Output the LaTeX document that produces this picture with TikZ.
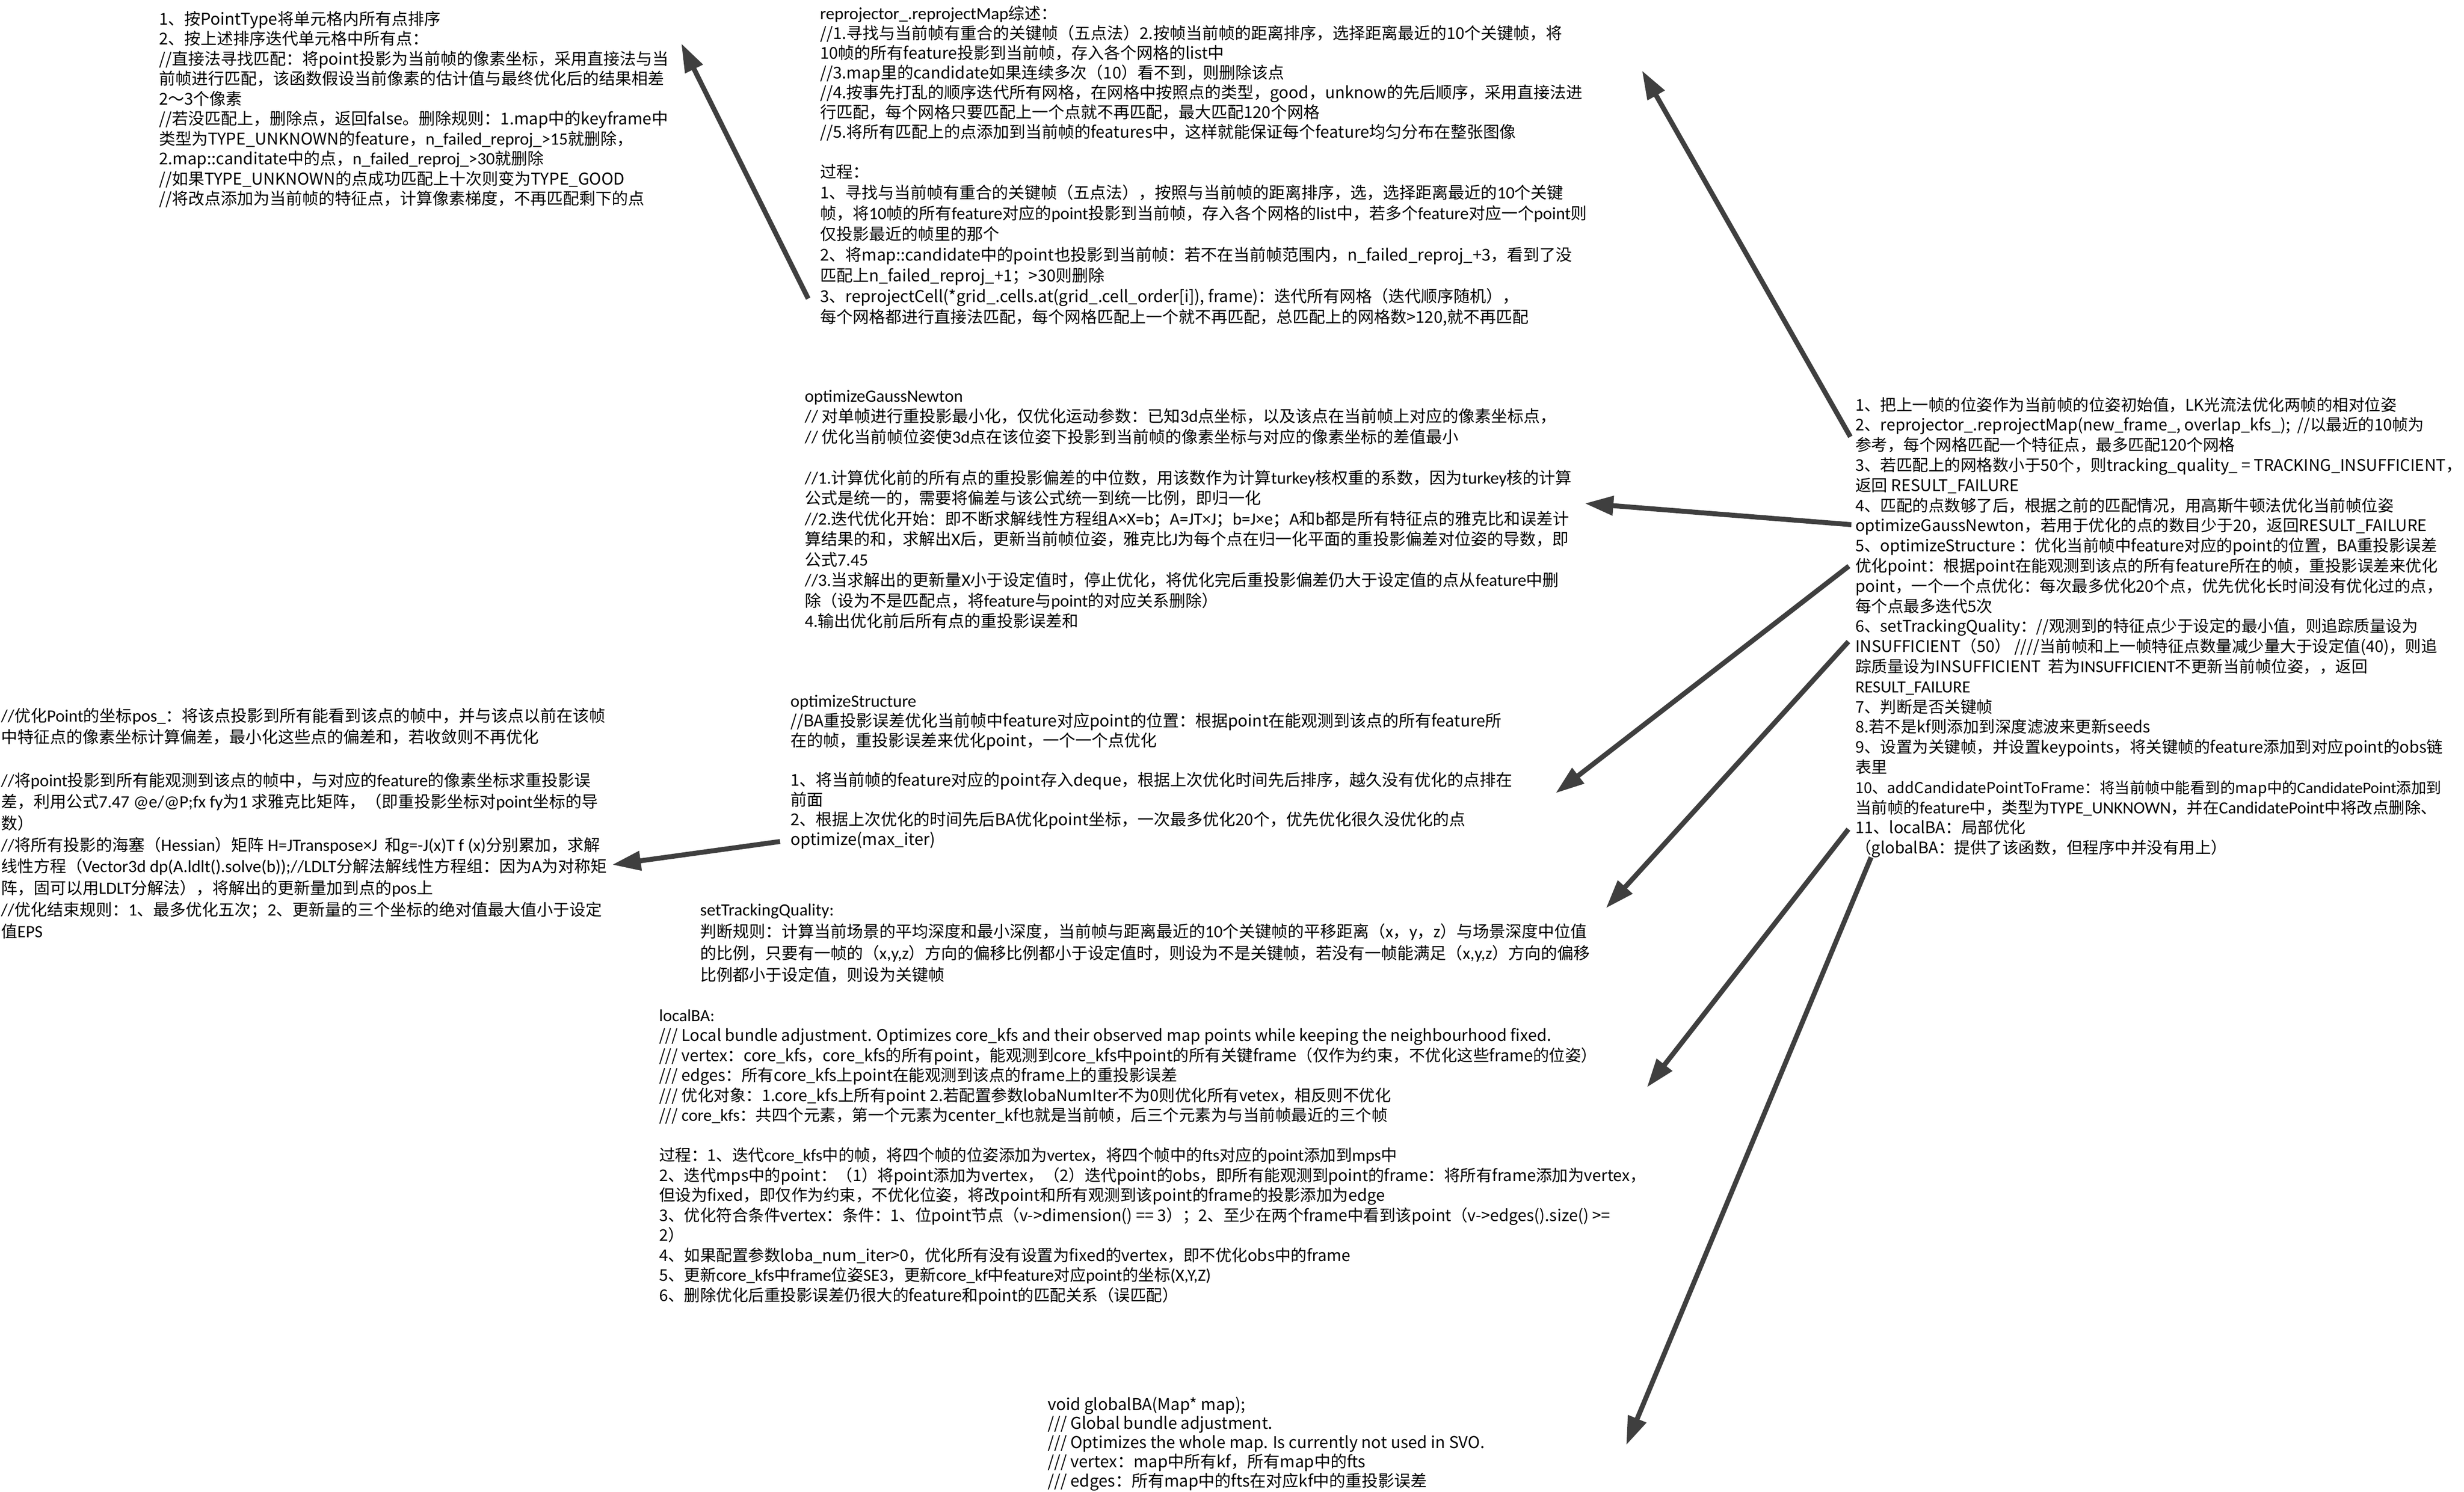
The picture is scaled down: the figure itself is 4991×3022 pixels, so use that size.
\documentclass[tikz,border=0pt]{standalone}
\usepackage{fontspec}
\setmainfont{Noto Sans CJK SC}
\newfontfamily\carl[Scale=1.06]{Carlito}
\usetikzlibrary{arrows.meta}
\definecolor{arrowgray}{HTML}{3F3F3F}
\newcommand\cb[1]{{\carl #1}}
\tikzset{
  txt/.style={anchor=base west, align=left, inner sep=0pt, text=black},
  conn/.style={draw=arrowgray, line width=10pt, -{Triangle[length=58pt,width=38pt]}}
}
\begin{document}
\begin{tikzpicture}[x=1pt,y=-1pt]
\useasboundingbox (0,0) rectangle (4991,3022);
\fill[white] (0,0) rectangle (4991,3022);

% NOTE: each text node is placed by the baseline of its LAST line

% top-left block
\node[txt, font=\fontsize{33}{40.5}\selectfont] (tl) at (322,414.5) {%
1、按PointType将单元格内所有点排序\\
2、按上述排序迭代单元格中所有点：\\
//直接法寻找匹配：将point投影为当前帧的像素坐标，采用直接法与当\\
前帧进行匹配，该函数假设当前像素的估计值与最终优化后的结果相差\\
2～3个像素\\
//若没匹配上，删除点，返回false。删除规则：1.map中的keyframe中\\
类型为TYPE\_UNKNOWN的feature，\cb{n\_failed\_reproj\_>15}就删除，\\
2.map::canditate中的点，\cb{n\_failed\_reproj\_>30}就删除\\
//如果TYPE\_UNKNOWN的点成功匹配上十次则变为TYPE\_GOOD\\
//将改点添加为当前帧的特征点，计算像素梯度，不再匹配剩下的点};

% reprojector summary
\node[txt, font=\fontsize{33}{40}\selectfont] (rp1) at (1661,279) {%
\cb{reprojector\_.reprojectMap}综述：\\
//1.寻找与当前帧有重合的关键帧（五点法）2.按帧当前帧的距离排序，选择距离最近的10个关键帧，将\\
10帧的所有feature投影到当前帧，存入各个网格的list中\\
//3.map里的candidate如果连续多次（10）看不到，则删除该点\\
//4.按事先打乱的顺序迭代所有网格，在网格中按照点的类型，good，unknow的先后顺序，采用直接法进\\
行匹配，每个网格只要匹配上一个点就不再匹配，最大匹配120个网格\\
//5.将所有匹配上的点添加到当前帧的features中，这样就能保证每个feature均匀分布在整张图像};

\node[txt, font=\fontsize{33}{42}\selectfont] (rp2) at (1661,654) {%
过程：\\
1、寻找与当前帧有重合的关键帧（五点法），按照与当前帧的距离排序，选，选择距离最近的\cb{10}个关键\\
帧，将\cb{10}帧的所有\cb{feature}对应的\cb{point}投影到当前帧，存入各个网格的\cb{list}中，若多个\cb{feature}对应一个\cb{point}则\\
仅投影最近的帧里的那个\\
2、将map::candidate中的point也投影到当前帧：若不在当前帧范围内，n\_failed\_reproj\_+3，看到了没\\
匹配上n\_failed\_reproj\_+1；>30则删除\\
3、reprojectCell(*grid\_.cells.at(grid\_.cell\_order[i]), frame)：迭代所有网格（迭代顺序随机），\\
每个网格都进行直接法匹配，每个网格匹配上一个就不再匹配，总匹配上的网格数>120,就不再匹配};

% optimizeGaussNewton
\node[txt, font=\fontsize{33}{41.5}\selectfont] (gn) at (1630,1270.5) {%
\cb{optimizeGaussNewton}\\
\cb{//} 对单帧进行重投影最小化，仅优化运动参数：已知\cb{3d}点坐标，以及该点在当前帧上对应的像素坐标点，\\
\cb{//} 优化当前帧位姿使\cb{3d}点在该位姿下投影到当前帧的像素坐标与对应的像素坐标的差值最小\\[41.5pt]
\cb{//1.}计算优化前的所有点的重投影偏差的中位数，用该数作为计算\cb{turkey}核权重的系数，因为\cb{turkey}核的计算\\
公式是统一的，需要将偏差与该公式统一到统一比例，即归一化\\
\cb{//2.}迭代优化开始：即不断求解线性方程组\cb{A×X=b}；\cb{A=JT×J}；\cb{b=J×e}；\cb{A}和\cb{b}都是所有特征点的雅克比和误差计\\
算结果的和，求解出\cb{X}后，更新当前帧位姿，雅克比\cb{J}为每个点在归一化平面的重投影偏差对位姿的导数，即\\
公式\cb{7.45}\\
\cb{//3.}当求解出的更新量\cb{X}小于设定值时，停止优化，将优化完后重投影偏差仍大于设定值的点从\cb{feature}中删\\
除（设为不是匹配点，将\cb{feature}与\cb{point}的对应关系删除）\\
\cb{4.}输出优化前后所有点的重投影误差和};

% left block
\node[txt, font=\fontsize{33}{43.7}\selectfont] (lf) at (2,1899) {%
\cb{//}优化\cb{Point}的坐标\cb{pos\_}：将该点投影到所有能看到该点的帧中，并与该点以前在该帧\\
中特征点的像素坐标计算偏差，最小化这些点的偏差和，若收敛则不再优化\\[43.7pt]
\cb{//}将\cb{point}投影到所有能观测到该点的帧中，与对应的\cb{feature}的像素坐标求重投影误\\
差，利用公式\cb{7.47 @e/@P;fx fy}为\cb{1} 求雅克比矩阵，（即重投影坐标对\cb{point}坐标的导\\
数）\\
\cb{//}将所有投影的海塞（\cb{Hessian}）矩阵 \cb{H=JTranspose×J}\ \ 和\cb{g=-J(x)T f (x)}分别累加，求解\\
线性方程（\cb{Vector3d dp(A.ldlt().solve(b));//LDLT}分解法解线性方程组：因为\cb{A}为对称矩\\
阵，固可以用\cb{LDLT}分解法），将解出的更新量加到点的\cb{pos}上\\
\cb{//}优化结束规则：\cb{1}、最多优化五次；\cb{2}、更新量的三个坐标的绝对值最大值小于设定\\
值\cb{EPS}};

% optimizeStructure
\node[txt, font=\fontsize{33}{40}\selectfont] (os) at (1601,1712) {%
\cb{optimizeStructure}\\
//BA重投影误差优化当前帧中feature对应point的位置：根据point在能观测到该点的所有feature所\\
在的帧，重投影误差来优化point，一个一个点优化\\[40pt]
1、将当前帧的feature对应的point存入deque，根据上次优化时间先后排序，越久没有优化的点排在\\
前面\\
2、根据上次优化的时间先后BA优化point坐标，一次最多优化20个，优先优化很久没优化的点\\
optimize(max\_iter)};

% setTrackingQuality
\node[txt, font=\fontsize{33}{44}\selectfont] (tq) at (1418,1987) {%
\cb{setTrackingQuality:}\\
判断规则：计算当前场景的平均深度和最小深度，当前帧与距离最近的\cb{10}个关键帧的平移距离（\cb{x}，\cb{y}，\cb{z}）与场景深度中位值\\
的比例，只要有一帧的（\cb{x,y,z}）方向的偏移比例都小于设定值时，则设为不是关键帧，若没有一帧能满足（\cb{x,y,z}）方向的偏移\\
比例都小于设定值，则设为关键帧};

% localBA
\node[txt, font=\fontsize{32.5}{40.5}\selectfont] (lb) at (1335,2636) {%
\cb{localBA:}\\
/// Local bundle adjustment. Optimizes core\_kfs and their observed map points while keeping the neighbourhood fixed.\\
/// vertex：core\_kfs，core\_kfs的所有point，能观测到core\_kfs中point的所有关键frame（仅作为约束，不优化这些frame的位姿）\\
/// edges：所有core\_kfs上point在能观测到该点的frame上的重投影误差\\
/// 优化对象：1.core\_kfs上所有point 2.若配置参数lobaNumIter不为0则优化所有vetex，相反则不优化\\
/// \cb{core\_kfs}：共四个元素，第一个元素为center\_kf也就是当前帧，后三个元素为与当前帧最近的三个帧\\[40.5pt]
过程：1、迭代\cb{core\_kfs}中的帧，将四个帧的位姿添加为\cb{vertex}，将四个帧中的\cb{fts}对应的\cb{point}添加到\cb{mps}中\\
2、迭代mps中的point：（1）将point添加为vertex，（2）迭代point的obs，即所有能观测到point的frame：将所有frame添加为vertex，\\
但设为fixed，即仅作为约束，不优化位姿，将改point和所有观测到该point的frame的投影添加为edge\\
3、优化符合条件vertex：条件：1、位point节点（v->dimension() == 3）；2、至少在两个frame中看到该point（v->edges().size() >=\\
2）\\
4、如果配置参数loba\_num\_iter>0，优化所有没有设置为fixed的vertex，即不优化obs中的frame\\
5、更新\cb{core\_kfs}中\cb{frame}位姿\cb{SE3}，更新\cb{core\_kf}中\cb{feature}对应\cb{point}的坐标\cb{(X,Y,Z)}\\
6、删除优化后重投影误差仍很大的feature和point的匹配关系（误匹配）};

% globalBA
\node[txt, font=\fontsize{33}{38.75}\selectfont] (gb) at (2122,3012) {%
void globalBA(Map* map);\\
/// Global bundle adjustment.\\
/// Optimizes the whole map. Is currently not used in SVO.\\
/// vertex：map中所有kf，所有map中的fts\\
/// edges：所有map中的fts在对应kf中的重投影误差};

% right block (main flow)
\node[txt, font=\fontsize{32.5}{40.8}\selectfont] (rt) at (3758,1729.6) {%
1、把上一帧的位姿作为当前帧的位姿初始值，LK光流法优化两帧的相对位姿\\
2、reprojector\_.reprojectMap(new\_frame\_, overlap\_kfs\_);\ \ //以最近的10帧为\\
参考，每个网格匹配一个特征点，最多匹配120个网格\\
3、若匹配上的网格数小于50个，则tracking\_quality\_ = TRACKING\_INSUFFICIENT，\\
返回 RESULT\_FAILURE\\
4、匹配的点数够了后，根据之前的匹配情况，用高斯牛顿法优化当前帧位姿\\
optimizeGaussNewton，若用于优化的点的数目少于20，返回RESULT\_FAILURE\\
5、optimizeStructure ：优化当前帧中feature对应的point的位置，BA重投影误差\\
优化point：根据point在能观测到该点的所有feature所在的帧，重投影误差来优化\\
point，一个一个点优化：每次最多优化20个点，优先优化长时间没有优化过的点，\\
每个点最多迭代5次\\
6、setTrackingQuality：//观测到的特征点少于设定的最小值，则追踪质量设为\\
INSUFFICIENT（50） ////当前帧和上一帧特征点数量减少量大于设定值(40)，则追\\
踪质量设为INSUFFICIENT\ \ 若为\cb{INSUFFICIENT}不更新当前帧位姿，，返回\\
\cb{RESULT\_FAILURE}\\
7、判断是否关键帧\\
8.若不是kf则添加到深度滤波来更新seeds\\
9、设置为关键帧，并设置keypoints，将关键帧的feature添加到对应point的obs链\\
表里\\
{\fontsize{30.5}{40.8}\selectfont 10、addCandidatePointToFrame：将当前帧中能看到的map中的\cb{CandidatePoint}添加到}\\
当前帧的\cb{feature}中，类型为\cb{TYPE\_UNKNOWN}，并在\cb{CandidatePoint}中将改点删除、\\
11、localBA：局部优化\\
（globalBA：提供了该函数，但程序中并没有用上）};

% arrow end points
\coordinate (a1s) at (1637,605);  \coordinate (a1e) at (1380,88);
\coordinate (a2s) at (3748,885);  \coordinate (a2e) at (3326,143);
\coordinate (a3s) at (3750,1063); \coordinate (a3e) at (3210,1020);
\coordinate (a4s) at (3745,1147); \coordinate (a4e) at (3151,1607);
\coordinate (a5s) at (1580,1705); \coordinate (a5e) at (1240,1752);
\coordinate (a6s) at (3744,1300); \coordinate (a6e) at (3253,1840);
\coordinate (a7s) at (3744,1680); \coordinate (a7e) at (3336,2203);
\coordinate (a8s) at (3790,1737); \coordinate (a8e) at (3294,2928);

\draw[conn] (a1s) -- (a1e);
\draw[conn] (a2s) -- (a2e);
\draw[conn] (a3s) -- (a3e);
\draw[conn] (a4s) -- (a4e);
\draw[conn] (a5s) -- (a5e);
\draw[conn] (a6s) -- (a6e);
\draw[conn] (a7s) -- (a7e);
\draw[conn] (a8s) -- (a8e);
\end{tikzpicture}
\end{document}
